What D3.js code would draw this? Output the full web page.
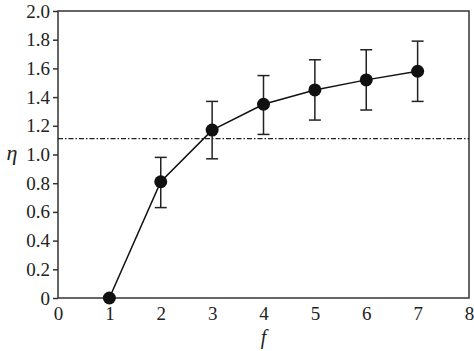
<!DOCTYPE html>
<html>
<head>
<meta charset="utf-8">
<script src="https://cdn.jsdelivr.net/npm/d3@7"></script>
<style>
  body { margin: 0; background: #fff; }
  svg text { font-family: "Liberation Serif", "Times New Roman", Times, "DejaVu Serif", serif !important; fill: #222; }
</style>
</head>
<body>
<div id="canvas"></div>
<script>
"use strict";

/**** SIZES ****/
let svgWidth = 474;
let svgHeight = 351;

let leftMargin = 58;
let rightMargin = 5;
let topMargin = 11;
let bottomMargin = 53;

/**** DATA ****/
let fValues = [1, 2, 3, 4, 5, 6, 7];
let etaValues = [0, 0.81, 1.17, 1.35, 1.45, 1.52, 1.58];
let errLow = [null, 0.63, 0.97, 1.14, 1.24, 1.31, 1.37];
let errHigh = [null, 0.98, 1.37, 1.55, 1.66, 1.73, 1.79];
let refLine = 1.11;
let xTicks = [0, 1, 2, 3, 4, 5, 6, 7, 8];
let yTicks = [0, 0.2, 0.4, 0.6, 0.8, 1.0, 1.2, 1.4, 1.6, 1.8, 2.0];

let svg = d3.select("#canvas")
    .append("svg")
    .attr("width", svgWidth)
    .attr("height", svgHeight);

/**** SCALES ****/
let xScale = d3.scaleLinear()
    .domain([0, 8])
    .range([leftMargin, svgWidth - rightMargin]);

let yScale = d3.scaleLinear()
    .domain([0, 2])
    .range([svgHeight - bottomMargin, topMargin]);

let axisColor = "#333";
let serif = "'Liberation Serif', 'Times New Roman', Times, serif";

/**** FRAME ****/
svg.append("rect")
    .attr("x", xScale(0))
    .attr("y", yScale(2))
    .attr("width", xScale(8) - xScale(0))
    .attr("height", yScale(0) - yScale(2))
    .attr("fill", "none")
    .attr("stroke", axisColor)
    .attr("stroke-width", 1.5);

/**** Y AXIS ****/
let yAxis = d3.axisLeft(yScale)
    .tickValues(yTicks)
    .tickSize(5)
    .tickPadding(3)
    .tickFormat(function(d) {
        return d === 0 ? "0" : d3.format(".1f")(d);
    });

let yg = svg.append("g")
    .attr("transform", `translate(${xScale(0)},0)`)
    .call(yAxis)
    .attr("font-family", serif)
    .attr("font-size", 19);
yg.select(".domain").remove();
yg.selectAll("line").attr("stroke", axisColor).attr("stroke-width", 1.5);
yg.selectAll("text").attr("fill", "#222");

/**** X AXIS ****/
let xAxis = d3.axisBottom(xScale)
    .tickValues(xTicks)
    .tickSize(0)
    .tickPadding(9)
    .tickFormat(d3.format("d"));

let xg = svg.append("g")
    .attr("transform", `translate(0,${yScale(0)})`)
    .call(xAxis)
    .attr("font-family", serif)
    .attr("font-size", 19);
xg.select(".domain").remove();
xg.selectAll("text").attr("fill", "#222");

/**** AXIS TITLES ****/
svg.append("text")
    .attr("x", xScale(4))
    .attr("y", 344)
    .attr("text-anchor", "middle")
    .attr("font-family", serif)
    .style("font-size", "20px")
    .style("font-style", "italic")
    .text("f");

svg.append("text")
    .attr("x", 12)
    .attr("y", yScale(1.0) + 5)
    .attr("text-anchor", "middle")
    .attr("font-family", serif)
    .style("font-size", "22px")
    .style("font-style", "italic")
    .text("η");

/**** REFERENCE LINE ****/
svg.append("line")
    .attr("x1", xScale(0))
    .attr("x2", xScale(8))
    .attr("y1", yScale(refLine))
    .attr("y2", yScale(refLine))
    .attr("stroke", "#222")
    .attr("stroke-width", 1.3)
    .attr("stroke-dasharray", "5,2,1.5,2");

/**** CURVE ****/
let line = d3.line()
    .x(function(d, i) { return xScale(fValues[i]); })
    .y(function(d) { return yScale(d); });

svg.append("path")
    .datum(etaValues)
    .attr("d", line)
    .attr("fill", "none")
    .attr("stroke", "#111")
    .attr("stroke-width", 1.5);

/**** ERROR BARS ****/
let capHalf = 6;
for (let i = 0; i < fValues.length; i++) {
    if (errLow[i] === null) continue;
    let x = xScale(fValues[i]);
    svg.append("line")
        .attr("x1", x).attr("x2", x)
        .attr("y1", yScale(errLow[i]))
        .attr("y2", yScale(errHigh[i]))
        .attr("stroke", "#222")
        .attr("stroke-width", 1.5);
    [errLow[i], errHigh[i]].forEach(function(v) {
        svg.append("line")
            .attr("x1", x - capHalf).attr("x2", x + capHalf)
            .attr("y1", yScale(v)).attr("y2", yScale(v))
            .attr("stroke", "#222")
            .attr("stroke-width", 1.5);
    });
}

/**** MARKERS ****/
svg.selectAll("circle.pt")
    .data(etaValues)
    .join("circle")
    .attr("class", "pt")
    .attr("cx", function(d, i) { return xScale(fValues[i]); })
    .attr("cy", function(d) { return yScale(d); })
    .attr("r", 6.5)
    .attr("fill", "#111");
</script>
</body>
</html>
